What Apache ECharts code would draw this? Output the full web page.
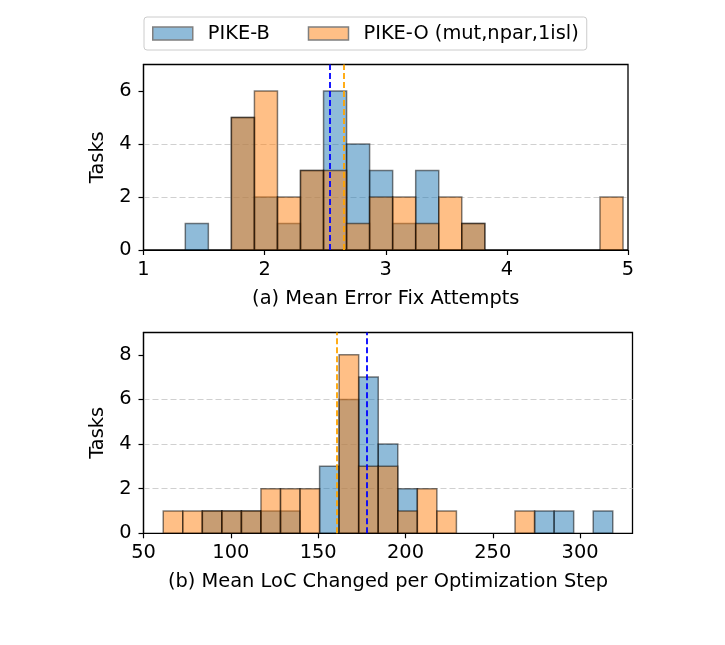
<!DOCTYPE html>
<html>
<head>
<meta charset="utf-8">
<script src="https://cdn.jsdelivr.net/npm/echarts@6/dist/echarts.min.js"></script>
<style>html,body{margin:0;padding:0;background:#fff;}#c{width:725px;height:645px;}</style>
</head>
<body>
<div id="c"></div>
<script>
// ---- data ----
const seriesNames = ['PIKE-B', 'PIKE-O (mut,npar,1isl)'];
// (a) Mean Error Fix Attempts: 20 bins between these limits
const topRange = [1.155, 4.959];
const topBlue   = [0,1,0,5,2,1,3,6,4,3,1,3,0,1,0,0,0,0,0,0];
const topOrange = [0,0,0,5,6,2,3,3,1,2,2,1,2,1,0,0,0,0,0,2];
const topMeans = [2.537, 2.650];
const topXTicks = [1, 2, 3, 4, 5];
const topYTicks = [0, 2, 4, 6];
// (b) Mean LoC Changed per Optimization Step: 23 bins between these limits
const botRange = [61.3, 318.7];
const botBlue   = [0,0,1,1,1,1,1,0,3,6,7,4,2,0,0,0,0,0,0,1,1,0,1];
const botOrange = [1,1,1,1,1,2,2,2,0,8,3,3,1,2,1,0,0,0,1,0,0,0,0];
const botMeans = [178.0, 160.4];
const botXTicks = [50, 100, 150, 200, 250, 300];
const botYTicks = [0, 2, 4, 6, 8];
const titles = ['(a) Mean Error Fix Attempts', '(b) Mean LoC Changed per Optimization Step'];

// ---- build ----
const FONT = 'DejaVu Sans';
const FS = 19.4;
const fills = ['rgba(31,119,180,0.5)', 'rgba(255,127,14,0.5)'];
const meanColors = ['#0000ff', '#ffa500'];

function histData(range, counts) {
  const n = counts.length, w = (range[1] - range[0]) / n;
  return counts.map((c, i) => [range[0] + i * w, range[0] + (i + 1) * w, c]);
}
function makeRender(fill) {
  return function (params, api) {
    const v = api.value(2);
    if (!v) return null;
    const p0 = api.coord([api.value(0), 0]);
    const p1 = api.coord([api.value(1), v]);
    return {
      type: 'rect',
      shape: { x: p0[0], y: p1[1], width: p1[0] - p0[0], height: p0[1] - p1[1] },
      style: { fill: fill, stroke: 'rgba(0,0,0,0.5)', lineWidth: 1.5 }
    };
  };
}
function histSeries(name, idx, gi, range, counts, mean) {
  return {
    type: 'custom', name: name, xAxisIndex: gi, yAxisIndex: gi,
    renderItem: makeRender(fills[idx]), clip: true,
    itemStyle: { color: fills[idx] },
    encode: { x: [0, 1], y: 2 },
    data: histData(range, counts),
    z: 2 + idx,
    markLine: {
      silent: true, symbol: 'none', label: { show: false }, animation: false,
      lineStyle: { color: meanColors[idx], type: [6, 3], width: 1.8 },
      data: [{ xAxis: mean }]
    }
  };
}
function xAxisCfg(gi, min, max, interval, ticks, title) {
  return {
    type: 'value', gridIndex: gi, min: min, max: max, interval: interval,
    name: title, nameLocation: 'middle', nameGap: 39,
    nameTextStyle: { fontFamily: FONT, fontSize: FS, color: '#000' },
    axisLine: { show: true, onZero: false, lineStyle: { color: '#000', width: 1.2 } },
    axisTick: { show: true, length: 5, lineStyle: { color: '#000', width: 1.2 }, customValues: ticks },
    axisLabel: { fontFamily: FONT, fontSize: FS, color: '#000', margin: 10, customValues: ticks },
    splitLine: { show: false }
  };
}
function yAxisCfg(gi, max, ticks) {
  return {
    type: 'value', gridIndex: gi, min: 0, max: max, interval: 2,
    name: 'Tasks', nameLocation: 'middle', nameGap: 36,
    nameTextStyle: { fontFamily: FONT, fontSize: FS, color: '#000' },
    axisLine: { show: true, lineStyle: { color: '#000', width: 1.2 } },
    axisTick: { show: true, length: 5, lineStyle: { color: '#000', width: 1.2 }, customValues: ticks },
    axisLabel: { fontFamily: FONT, fontSize: FS, color: '#000', margin: 12, customValues: ticks },
    splitLine: { show: true, showMinLine: false, showMaxLine: false, lineStyle: { color: '#d0d0d0', type: [6, 3], width: 1.2 } }
  };
}

const chart = echarts.init(document.getElementById('c'), null, { renderer: 'canvas' });
chart.setOption({
  animation: false,
  backgroundColor: '#fff',
  legend: {
    left: 144, top: 17, orient: 'horizontal',
    padding: [7, 8, 7, 8],
    borderColor: '#cccccc', borderWidth: 1, borderRadius: 3,
    itemWidth: 40, itemHeight: 13, itemGap: 38,
    textStyle: { fontFamily: FONT, fontSize: FS, color: '#000', padding: [0, 0, 0, 10] },
    data: [
      { name: seriesNames[0], icon: 'rect', itemStyle: { color: '#8fbbd9', borderColor: '#7f7f7f', borderWidth: 1.5 } },
      { name: seriesNames[1], icon: 'rect', itemStyle: { color: '#ffbf86', borderColor: '#7f7f7f', borderWidth: 1.5 } }
    ]
  },
  grid: [
    { left: 143.5, right: 97, top: 64.5, height: 185.5, show: true, borderColor: '#000', borderWidth: 1.3, backgroundColor: 'transparent', containLabel: false },
    { left: 143.5, right: 92.5, top: 332.5, height: 200.8, show: true, borderColor: '#000', borderWidth: 1.3, backgroundColor: 'transparent', containLabel: false }
  ],
  xAxis: [
    xAxisCfg(0, 1, 5, 1, topXTicks, titles[0]),
    xAxisCfg(1, 50, 330, 50, botXTicks, titles[1])
  ],
  yAxis: [
    yAxisCfg(0, 7, topYTicks),
    yAxisCfg(1, 9, botYTicks)
  ],
  series: [
    histSeries(seriesNames[0], 0, 0, topRange, topBlue, topMeans[0]),
    histSeries(seriesNames[1], 1, 0, topRange, topOrange, topMeans[1]),
    histSeries(seriesNames[0], 0, 1, botRange, botBlue, botMeans[0]),
    histSeries(seriesNames[1], 1, 1, botRange, botOrange, botMeans[1])
  ]
});
</script>
</body>
</html>
